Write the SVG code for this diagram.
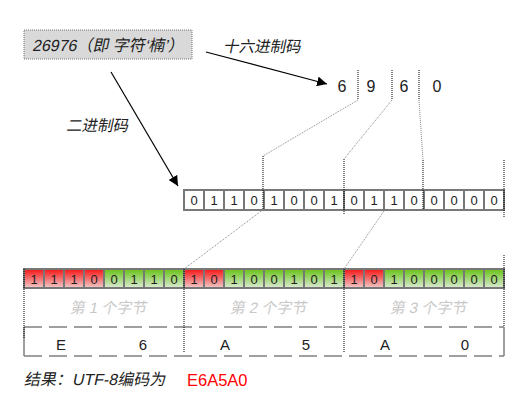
<svg xmlns="http://www.w3.org/2000/svg" width="525" height="402" viewBox="0 0 525 402">
<defs>
<linearGradient id="gr" x1="0" y1="0" x2="0" y2="1"><stop offset="0" stop-color="#f41414"/><stop offset="1" stop-color="#f2caca"/></linearGradient>
<linearGradient id="gg" x1="0" y1="0" x2="0" y2="1"><stop offset="0" stop-color="#66c214"/><stop offset="1" stop-color="#dcebd4"/></linearGradient>
<marker id="ah" viewBox="0 0 10 10" refX="10" refY="5" markerWidth="10" markerHeight="10" markerUnits="userSpaceOnUse" orient="auto"><path d="M0,0 L10,5 L0,10 z" fill="#000"/></marker>
<style>
.t{font-family:"Liberation Sans","Noto Sans CJK SC",sans-serif;}
.cell{stroke:#777;stroke-width:2;}
.d{font-family:"Liberation Sans",sans-serif;font-size:13px;fill:#222;text-anchor:middle;}
.dot{stroke:#000;stroke-width:1;stroke-dasharray:1 1;fill:none;}
.gd{stroke:#888;stroke-width:1;stroke-dasharray:1 1;fill:none;}
.dash{stroke:#808080;stroke-width:1.5;stroke-dasharray:18 7;fill:none;}
.lab{font-size:15px;fill:#c8c8c8;text-anchor:middle;}
</style>
</defs>
<g id="source">
<rect x="24" y="30" width="168" height="29" fill="#d9d9d9" stroke="#777" stroke-dasharray="1 1"/>
<g transform="translate(32,51) skewX(-12)"><text class="t" x="0" y="0" font-size="16" fill="#222">26976（即 字符‘楠’）</text></g>
</g>
<g id="labels">
<g transform="translate(223,52) skewX(-12)"><text class="t" x="0" y="0" font-size="15.5" fill="#222">十六进制码</text></g>
<g transform="translate(66,131) skewX(-12)"><text class="t" x="0" y="0" font-size="15.5" fill="#222">二进制码</text></g>
</g>
<g id="hex">
<text class="t" x="342" y="92" font-size="16" fill="#222" text-anchor="middle">6</text>
<text class="t" x="371" y="92" font-size="16" fill="#222" text-anchor="middle">9</text>
<text class="t" x="404" y="92" font-size="16" fill="#222" text-anchor="middle">6</text>
<text class="t" x="437" y="92" font-size="16" fill="#222" text-anchor="middle">0</text>
</g>
<g id="binary">
<g fill="#fff" class="cell">
<rect x="184" y="190" width="20" height="20"/><rect x="204" y="190" width="20" height="20"/><rect x="224" y="190" width="20" height="20"/><rect x="244" y="190" width="20" height="20"/>
<rect x="264" y="190" width="20" height="20"/><rect x="284" y="190" width="20" height="20"/><rect x="304" y="190" width="20" height="20"/><rect x="324" y="190" width="20" height="20"/>
<rect x="344" y="190" width="20" height="20"/><rect x="364" y="190" width="20" height="20"/><rect x="384" y="190" width="20" height="20"/><rect x="404" y="190" width="20" height="20"/>
<rect x="424" y="190" width="20" height="20"/><rect x="444" y="190" width="20" height="20"/><rect x="464" y="190" width="20" height="20"/><rect x="484" y="190" width="20" height="20"/>
</g>
<text class="d" x="194" y="205">0</text><text class="d" x="214" y="205">1</text><text class="d" x="234" y="205">1</text><text class="d" x="254" y="205">0</text>
<text class="d" x="274" y="205">1</text><text class="d" x="294" y="205">0</text><text class="d" x="314" y="205">0</text><text class="d" x="334" y="205">1</text>
<text class="d" x="354" y="205">0</text><text class="d" x="374" y="205">1</text><text class="d" x="394" y="205">1</text><text class="d" x="414" y="205">0</text>
<text class="d" x="434" y="205">0</text><text class="d" x="454" y="205">0</text><text class="d" x="474" y="205">0</text><text class="d" x="494" y="205">0</text>
</g>
<g id="utf8">
<g class="cell">
<rect x="24" y="269" width="20" height="19" fill="url(#gr)"/><rect x="44" y="269" width="20" height="19" fill="url(#gr)"/><rect x="64" y="269" width="20" height="19" fill="url(#gr)"/><rect x="84" y="269" width="20" height="19" fill="url(#gr)"/>
<rect x="104" y="269" width="20" height="19" fill="url(#gg)"/><rect x="124" y="269" width="20" height="19" fill="url(#gg)"/><rect x="144" y="269" width="20" height="19" fill="url(#gg)"/><rect x="164" y="269" width="20" height="19" fill="url(#gg)"/>
<rect x="184" y="269" width="20" height="19" fill="url(#gr)"/><rect x="204" y="269" width="20" height="19" fill="url(#gr)"/><rect x="224" y="269" width="20" height="19" fill="url(#gg)"/><rect x="244" y="269" width="20" height="19" fill="url(#gg)"/>
<rect x="264" y="269" width="20" height="19" fill="url(#gg)"/><rect x="284" y="269" width="20" height="19" fill="url(#gg)"/><rect x="304" y="269" width="20" height="19" fill="url(#gg)"/><rect x="324" y="269" width="20" height="19" fill="url(#gg)"/>
<rect x="344" y="269" width="20" height="19" fill="url(#gr)"/><rect x="364" y="269" width="20" height="19" fill="url(#gr)"/><rect x="384" y="269" width="20" height="19" fill="url(#gg)"/><rect x="404" y="269" width="20" height="19" fill="url(#gg)"/>
<rect x="424" y="269" width="20" height="19" fill="url(#gg)"/><rect x="444" y="269" width="20" height="19" fill="url(#gg)"/><rect x="464" y="269" width="20" height="19" fill="url(#gg)"/><rect x="484" y="269" width="20" height="19" fill="url(#gg)"/>
</g>
<text class="d" x="34" y="284">1</text><text class="d" x="54" y="284">1</text><text class="d" x="74" y="284">1</text><text class="d" x="94" y="284">0</text>
<text class="d" x="114" y="284">0</text><text class="d" x="134" y="284">1</text><text class="d" x="154" y="284">1</text><text class="d" x="174" y="284">0</text>
<text class="d" x="194" y="284">1</text><text class="d" x="214" y="284">0</text><text class="d" x="234" y="284">1</text><text class="d" x="254" y="284">0</text>
<text class="d" x="274" y="284">0</text><text class="d" x="294" y="284">1</text><text class="d" x="314" y="284">0</text><text class="d" x="334" y="284">1</text>
<text class="d" x="354" y="284">1</text><text class="d" x="374" y="284">0</text><text class="d" x="394" y="284">1</text><text class="d" x="414" y="284">0</text>
<text class="d" x="434" y="284">0</text><text class="d" x="454" y="284">0</text><text class="d" x="474" y="284">0</text><text class="d" x="494" y="284">0</text>
</g>
<g id="bytes">
<g transform="translate(108,313) skewX(-12)"><text class="t lab" x="0" y="0">第 1 个字节</text></g>
<g transform="translate(268,313) skewX(-12)"><text class="t lab" x="0" y="0">第 2 个字节</text></g>
<g transform="translate(428,313) skewX(-12)"><text class="t lab" x="0" y="0">第 3 个字节</text></g>
<path class="dash" d="M24,327 H504 M24,356 H504"/>
<path d="M24,327 V356 M504,327 V356" stroke="#808080" stroke-width="1.5" fill="none"/>
<text class="t" x="61" y="350" font-size="15" fill="#222" text-anchor="middle">E</text>
<text class="t" x="143" y="350" font-size="15" fill="#222" text-anchor="middle">6</text>
<text class="t" x="225" y="350" font-size="15" fill="#222" text-anchor="middle">A</text>
<text class="t" x="306" y="350" font-size="15" fill="#222" text-anchor="middle">5</text>
<text class="t" x="385" y="350" font-size="15" fill="#222" text-anchor="middle">A</text>
<text class="t" x="465" y="350" font-size="15" fill="#222" text-anchor="middle">0</text>
</g>
<g id="result">
<g transform="translate(24,385) skewX(-12)"><text class="t" x="0" y="0" font-size="16" fill="#222">结果：UTF-8编码为</text></g>
<text class="t" x="187" y="386" font-size="16.5" fill="#f00">E6A5A0</text>
</g>
<g id="connectors">
<line x1="206" y1="52" x2="327" y2="84" stroke="#000" stroke-width="1.2" marker-end="url(#ah)"/>
<line x1="111" y1="72" x2="178" y2="186" stroke="#000" stroke-width="1.2" marker-end="url(#ah)"/>
<path class="dot" d="M358,70 V100 M392,70 V100 M419,70 V100"/>
<path class="gd" d="M358,100 L263,156 M392,100 L344,159 M419,100 L423,160"/>
<path class="dot" d="M263,156 V210 M344,159 V214 M423,160 V210 M504,160 V217"/>
<path class="gd" d="M264,209 L184,269 M384,211 L344,269"/>
<path class="dot" d="M24,269 V338 M184,269 V352 M344,269 V352 M504,255 V327"/>
</g>
</svg>
